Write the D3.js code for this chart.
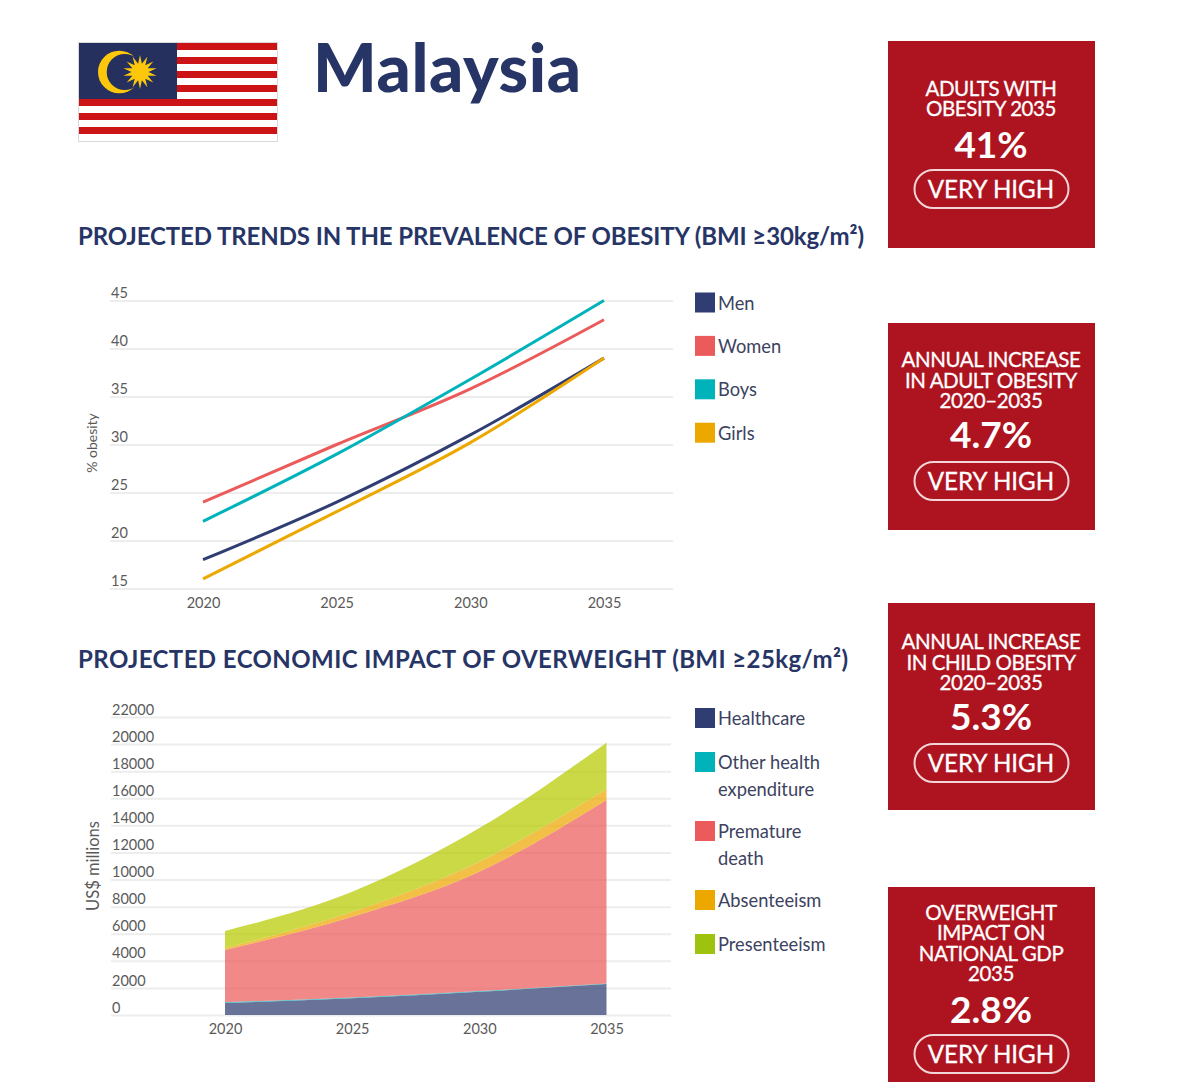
<!DOCTYPE html>
<html>
<head>
<meta charset="utf-8">
<script src="https://cdn.jsdelivr.net/npm/d3@7"></script>
<style>
  html, body { margin: 0; padding: 0; background: #fff; overflow: hidden; }
  svg { display: block; font-family: Lato, "Open Sans", sans-serif; }
</style>
</head>
<body>
<div id="chart"></div>
<script>
// Chart values
const years = [2020, 2025, 2030, 2035];

const trendNames = ["Men", "Women", "Boys", "Girls"];
const menValues = [18, 24, 31, 39];
const womenValues = [24, 30, 35.8, 43];
const boysValues = [22, 29, 36.8, 45];
const girlsValues = [16, 23, 30.2, 39];
const trendTicks = [15, 20, 25, 30, 35, 40, 45];

const costNames = ["Healthcare", "Other health expenditure", "Premature death", "Absenteeism", "Presenteeism"];
const healthcareValues = [880, 1230, 1720, 2290];
const otherHealthValues = [70, 60, 50, 40];
const prematureValues = [3850, 5960, 8810, 13540];
const absenteeismValues = [130, 370, 740, 810];
const presenteeismValues = [1270, 1480, 2480, 3420];
const costTicks = [0, 2000, 4000, 6000, 8000, 10000, 12000, 14000, 16000, 18000, 20000, 22000];

const cardLabels = [
    ["ADULTS WITH", "OBESITY 2035"],
    ["ANNUAL INCREASE", "IN ADULT OBESITY", "2020–2035"],
    ["ANNUAL INCREASE", "IN CHILD OBESITY", "2020–2035"],
    ["OVERWEIGHT", "IMPACT ON", "NATIONAL GDP", "2035"]
];
const cardValues = ["41%", "4.7%", "5.3%", "2.8%"];
const cardRating = "VERY HIGH";

const navy = "#2f3d73", coral = "#eb5b5b", teal = "#00b3bb", amber = "#eda800", lime = "#9dc30f";
const trendColors = [navy, coral, teal, amber];
const costColors = [navy, teal, coral, amber, lime];
// the top band prints yellower than its legend swatch
const areaColors = [navy, teal, coral, amber, "#b7ca00"];
const titleColor = "#263566", tickColor = "#5a5a5a", gridColor = "#ededed";

const svg = d3.select("#chart").append("svg").attr("width", 1200).attr("height", 1082);

// Flag
function drawFlag() {
    const g = svg.append("g").attr("transform", "translate(79,43)");
    const w = 198, h = 98, stripe = h / 14;
    g.append("rect").attr("width", w).attr("height", h).attr("fill", "#fff");
    d3.range(0, 14, 2).forEach(i => {
        g.append("rect").attr("y", i * stripe).attr("width", w).attr("height", stripe).attr("fill", "#cc1417");
    });
    g.append("rect").attr("width", w / 2 - 1).attr("height", stripe * 8).attr("fill", "#26305f");
    g.append("rect").attr("x", -0.5).attr("y", -0.5).attr("width", w + 1).attr("height", h + 1)
        .attr("fill", "none").attr("stroke", "#d9d9d9");
    // crescent
    g.append("circle").attr("cx", 40.3).attr("cy", 29).attr("r", 21.3).attr("fill", "#fdc80c");
    g.append("circle").attr("cx", 45.7).attr("cy", 29).attr("r", 18).attr("fill", "#26305f");
    // 14 point star
    const star = d3.lineRadial().curve(d3.curveLinearClosed)
        .angle((d, i) => i * Math.PI / 14)
        .radius((d, i) => i % 2 ? 8.5 : 17);
    g.append("path").attr("d", star(d3.range(28))).attr("transform", "translate(61,29)").attr("fill", "#fdc80c");
}
drawFlag();

svg.append("text").attr("x", 313).attr("y", 91.5).attr("font-size", 67).attr("font-weight", 900)
    .attr("fill", titleColor).attr("textLength", 268).attr("lengthAdjust", "spacing").text("Malaysia");

function sectionTitle(text, y, width) {
    svg.append("text").attr("x", 78).attr("y", y).attr("font-size", 24).attr("font-weight", 700)
        .attr("fill", titleColor).attr("textLength", width).attr("lengthAdjust", "spacing").text(text);
}
sectionTitle("PROJECTED TRENDS IN THE PREVALENCE OF OBESITY (BMI ≥30kg/m²)", 245, 786);
sectionTitle("PROJECTED ECONOMIC IMPACT OF OVERWEIGHT (BMI ≥25kg/m²)", 668, 770);

// Shared axes: gridlines run the full width, labels sit on top of them
function drawAxes(x, y, yTicks, gridLeft, gridRight, labelY) {
    const yAxis = svg.append("g").attr("transform", `translate(${gridLeft},0)`)
        .call(d3.axisLeft(y).tickValues(yTicks).tickSize(-(gridRight - gridLeft)).tickFormat(d3.format("d")));
    yAxis.select(".domain").remove();
    yAxis.selectAll("line").attr("stroke", gridColor).attr("stroke-width", 2);
    yAxis.selectAll("text").attr("text-anchor", "start").attr("x", 1).attr("dy", "-0.2em")
        .attr("font-size", 14.5).attr("font-family", "Lato").attr("fill", tickColor);

    const xAxis = svg.append("g").attr("transform", `translate(0,${y.range()[0]})`)
        .call(d3.axisBottom(x).tickValues(years).tickSize(0).tickPadding(9).tickFormat(d3.format("d")));
    xAxis.select(".domain").remove();
    xAxis.selectAll("text").attr("font-size", 14.5).attr("font-family", "Lato").attr("fill", tickColor);

    svg.append("text").attr("transform", labelY.transform).attr("text-anchor", "middle")
        .attr("font-size", labelY.size).attr("fill", tickColor).text(labelY.text);
}

// Legend rows, long names wrap on two lines
function drawLegend(names, colors, top, oneLine, twoLine, wrap) {
    let y = top;
    names.forEach((name, i) => {
        const lines = wrap[name] || [name];
        svg.append("rect").attr("x", 695).attr("y", y).attr("width", 20).attr("height", 20).attr("fill", colors[i]);
        lines.forEach((line, j) => {
            svg.append("text").attr("x", 718).attr("y", y + 17 + j * 26.5).attr("font-size", 18.3)
                .attr("fill", "#3c4260").text(line);
        });
        y += lines.length > 1 ? twoLine : oneLine;
    });
}

// Prevalence lines
const xTrend = d3.scaleLinear().domain([2020, 2035]).range([203, 604]);
const yTrend = d3.scaleLinear().domain([15, 45]).range([588.5, 300.5]);
drawAxes(xTrend, yTrend, trendTicks, 110, 673,
    { transform: "translate(97,443) rotate(-90)", size: 14, text: "% obesity" });

const trendLine = d3.line()
    .x((d, i) => xTrend(years[i]))
    .y(d => yTrend(d))
    .curve(d3.curveMonotoneX);

svg.append("g").selectAll("path")
    .data([menValues, womenValues, boysValues, girlsValues])
    .enter().append("path")
    .attr("d", d => trendLine(d))
    .attr("fill", "none")
    .attr("stroke", (d, i) => trendColors[i])
    .attr("stroke-width", 3);

drawLegend(trendNames, trendColors, 292.5, 43.4, 43.4, {});

// Economic impact stack
const xCost = d3.scaleLinear().domain([2020, 2035]).range([225, 606.5]);
const yCost = d3.scaleLinear().domain([0, 22000]).range([1015, 717]);
drawAxes(xCost, yCost, costTicks, 111, 671,
    { transform: "translate(99,866) rotate(-90)", size: 16.5, text: "US$ millions" });

const costRows = years.map((year, i) => ({
    year,
    [costNames[0]]: healthcareValues[i],
    [costNames[1]]: otherHealthValues[i],
    [costNames[2]]: prematureValues[i],
    [costNames[3]]: absenteeismValues[i],
    [costNames[4]]: presenteeismValues[i]
}));
const stacked = d3.stack().keys(costNames)(costRows);
const costArea = d3.area()
    .x(d => xCost(d.data.year))
    .y0(d => yCost(d[0]))
    .y1(d => yCost(d[1]))
    .curve(d3.curveMonotoneX);

svg.append("g").selectAll("path")
    .data(stacked)
    .enter().append("path")
    .attr("d", costArea)
    .attr("fill", (d, i) => areaColors[i])
    .attr("fill-opacity", 0.72);

drawLegend(costNames, costColors, 708, 44, 69, {
    "Other health expenditure": ["Other health", "expenditure"],
    "Premature death": ["Premature", "death"]
});

// Red cards down the right side
const cardTops = [41, 323, 603, 887];
const pillTops = [129, 139, 141, 148];
const valueBases = [117, 125, 127, 136];
cardLabels.forEach((lines, i) => {
    const g = svg.append("g").attr("transform", `translate(888,${cardTops[i]})`);
    g.append("rect").attr("width", 207).attr("height", 207).attr("fill", "#ae1420");

    // Label block ends a fixed distance above the pill
    const firstBase = pillTops[i] - 54 - (lines.length - 1) * 20.5;
    lines.forEach((line, j) => {
        g.append("text").attr("x", 103).attr("y", firstBase + j * 20.5).attr("text-anchor", "middle")
            .attr("font-size", 20.5).attr("letter-spacing", -0.45).attr("fill", "#fff")
            .attr("stroke", "#fff").attr("stroke-width", 0.3).text(line);
    });
    g.append("text").attr("x", 103).attr("y", valueBases[i]).attr("text-anchor", "middle")
        .attr("font-size", 37).attr("font-weight", 700).attr("fill", "#fff").text(cardValues[i]);
    g.append("rect").attr("x", 26.5).attr("y", pillTops[i]).attr("width", 154).attr("height", 38).attr("rx", 19)
        .attr("fill", "none").attr("stroke", "#f1d5d7").attr("stroke-width", 2);
    g.append("text").attr("x", 103).attr("y", pillTops[i] + 28).attr("text-anchor", "middle")
        .attr("font-size", 24.2).attr("fill", "#fff")
        .attr("stroke", "#fff").attr("stroke-width", 0.3).text(cardRating);
});
</script>
</body>
</html>
